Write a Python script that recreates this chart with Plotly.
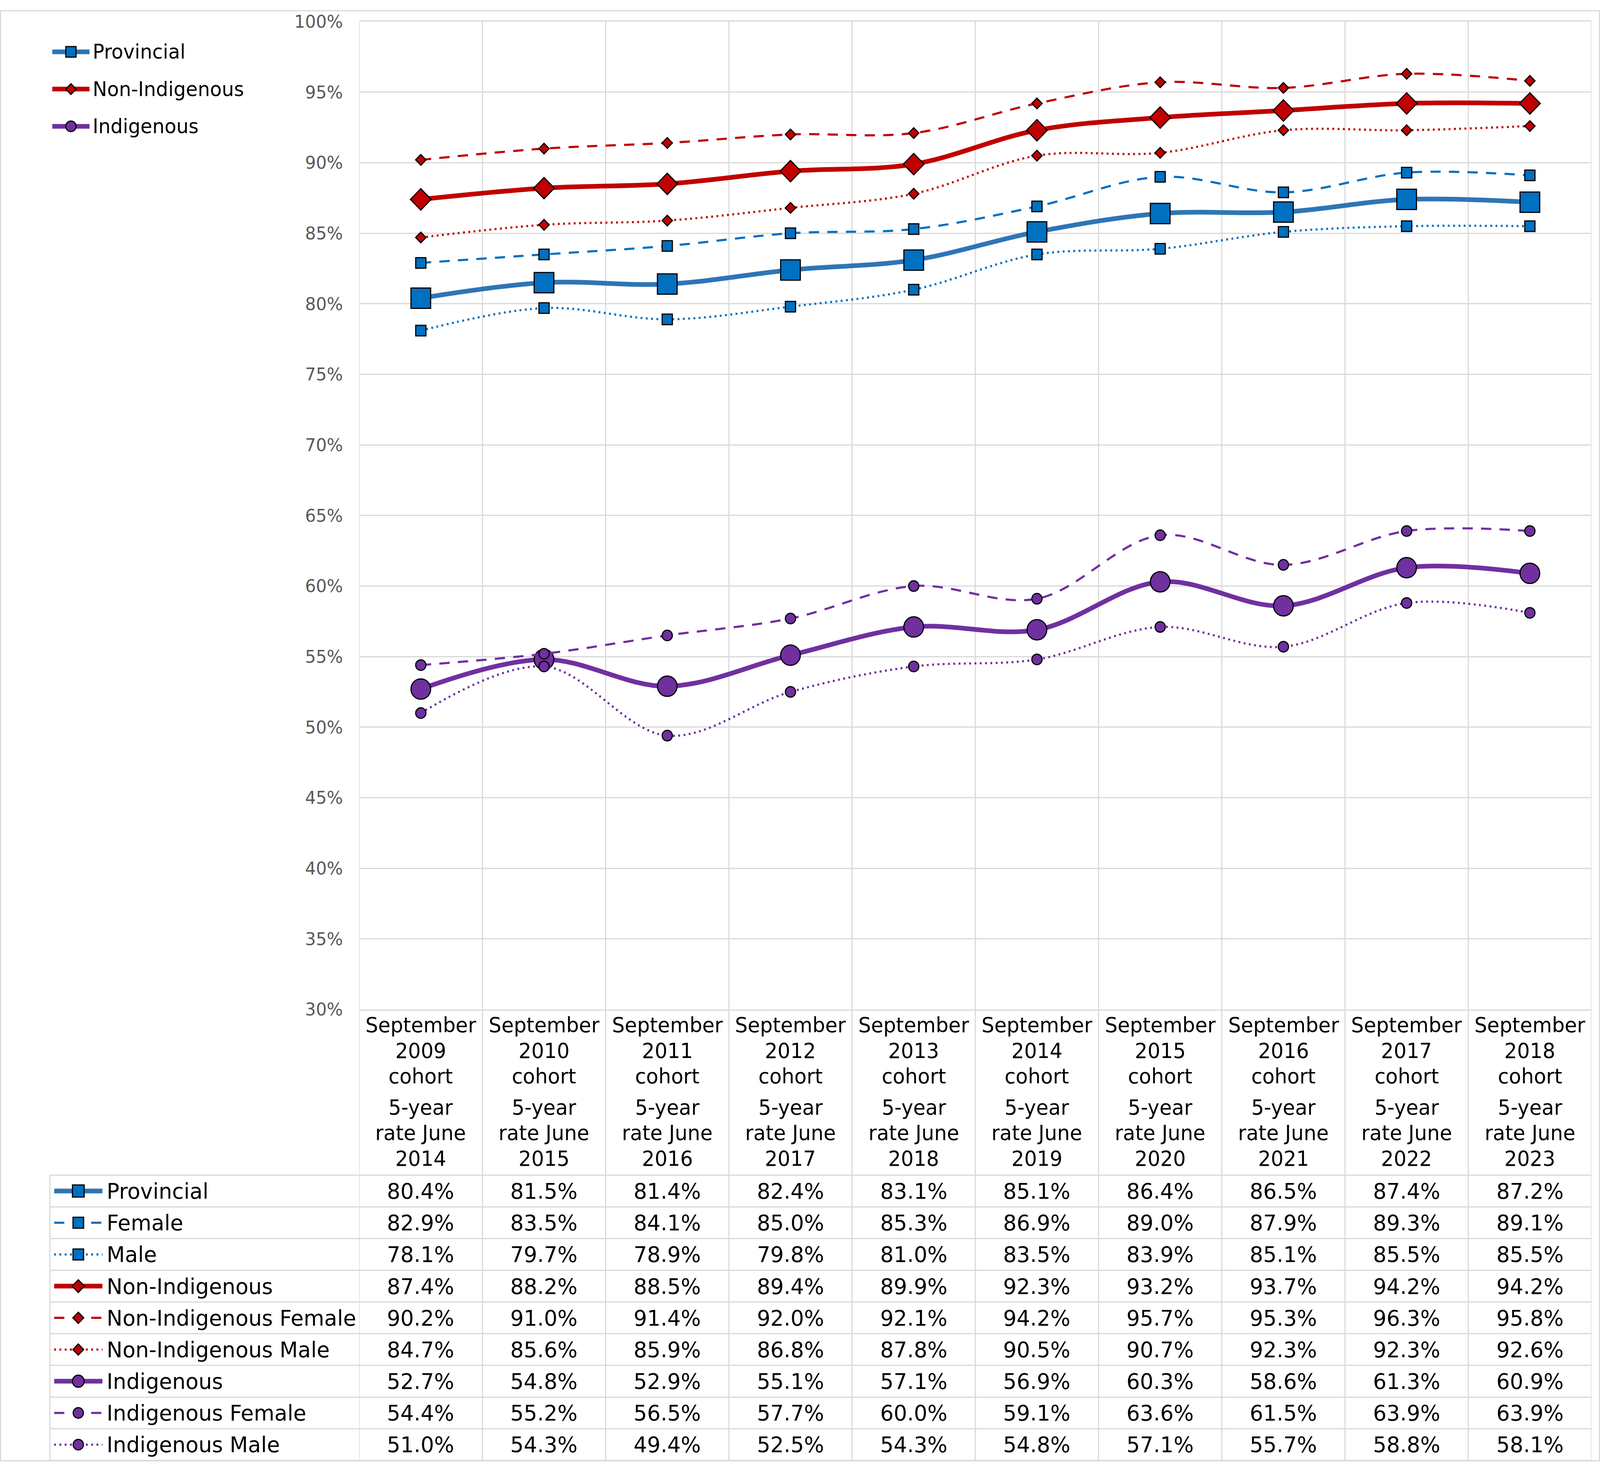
import plotly.graph_objects as go

W, H = 4230, 3769
FONT = "DejaVu Sans"

# ---------------- data ----------------
cohort_years = ["2009", "2010", "2011", "2012", "2013", "2014", "2015", "2016", "2017", "2018"]
rate_years = ["2014", "2015", "2016", "2017", "2018", "2019", "2020", "2021", "2022", "2023"]
categories = [f"September {c} cohort 5-year rate June {r}" for c, r in zip(cohort_years, rate_years)]

series_names = ["Provincial", "Female", "Male", "Non-Indigenous", "Non-Indigenous Female",
                "Non-Indigenous Male", "Indigenous", "Indigenous Female", "Indigenous Male"]

provincial = [80.4, 81.5, 81.4, 82.4, 83.1, 85.1, 86.4, 86.5, 87.4, 87.2]
female = [82.9, 83.5, 84.1, 85.0, 85.3, 86.9, 89.0, 87.9, 89.3, 89.1]
male = [78.1, 79.7, 78.9, 79.8, 81.0, 83.5, 83.9, 85.1, 85.5, 85.5]
non_indigenous = [87.4, 88.2, 88.5, 89.4, 89.9, 92.3, 93.2, 93.7, 94.2, 94.2]
non_indigenous_female = [90.2, 91.0, 91.4, 92.0, 92.1, 94.2, 95.7, 95.3, 96.3, 95.8]
non_indigenous_male = [84.7, 85.6, 85.9, 86.8, 87.8, 90.5, 90.7, 92.3, 92.3, 92.6]
indigenous = [52.7, 54.8, 52.9, 55.1, 57.1, 56.9, 60.3, 58.6, 61.3, 60.9]
indigenous_female = [54.4, 55.2, 56.5, 57.7, 60.0, 59.1, 63.6, 61.5, 63.9, 63.9]
indigenous_male = [51.0, 54.3, 49.4, 52.5, 54.3, 54.8, 57.1, 55.7, 58.8, 58.1]

series_values = [provincial, female, male, non_indigenous, non_indigenous_female,
                 non_indigenous_male, indigenous, indigenous_female, indigenous_male]

y_ticks = [30, 35, 40, 45, 50, 55, 60, 65, 70, 75, 80, 85, 90, 95, 100]

# ---------------- styles ----------------
BLUE, BLUE_LINE, RED, PURPLE = "#0070C0", "#2E75B6", "#C00000", "#7030A0"
GRID = "#D9D9D9"
DASH = "27px,22px"
DOT = "5px,9px"

styles = [
    dict(lc=BLUE_LINE, mc=BLUE, dash="solid", w=12, sym="square", ms=52, lms=31, main=True),
    dict(lc=BLUE, mc=BLUE, dash=DASH, w=5.5, sym="square", ms=27, lms=28, main=False),
    dict(lc=BLUE, mc=BLUE, dash=DOT, w=5.5, sym="square", ms=27, lms=28, main=False),
    dict(lc=RED, mc=RED, dash="solid", w=12, sym="diamond", ms=42, lms=25, main=True),
    dict(lc=RED, mc=RED, dash=DASH, w=5.5, sym="diamond", ms=21, lms=22, main=False),
    dict(lc=RED, mc=RED, dash=DOT, w=5.5, sym="diamond", ms=21, lms=22, main=False),
    dict(lc=PURPLE, mc=PURPLE, dash="solid", w=12, sym="circle", ms=52, lms=31, main=True),
    dict(lc=PURPLE, mc=PURPLE, dash=DASH, w=5.5, sym="circle", ms=27, lms=27, main=False),
    dict(lc=PURPLE, mc=PURPLE, dash=DOT, w=5.5, sym="circle", ms=27, lms=27, main=False),
]


def px(x):
    return x / W


def py(y):
    return 1 - y / H


PLOT_L, PLOT_R, PLOT_T, PLOT_B = 949.6, 4207.5, 29.7, 2595.0
TAB_L, TAB_T, ROW_H, NROWS = 132.0, 3025.5, 82.33, 9
TAB_B = TAB_T + ROW_H * NROWS

fig = go.Figure()

# main chart traces
for name, vals, st in zip(series_names, series_values, styles):
    fig.add_trace(go.Scatter(
        x=categories, y=vals, name=name, mode="lines+markers",
        line=dict(color=st["lc"], width=st["w"], dash=st["dash"], shape="spline", smoothing=1),
        marker=dict(symbol=st["sym"], size=st["ms"], color=st["mc"], line=dict(color="black", width=3)),
        xaxis="x", yaxis="y", showlegend=False, cliponaxis=False, hoverinfo="skip"))

# table legend keys
for i, (name, st) in enumerate(zip(series_names, styles)):
    fig.add_trace(go.Scatter(
        x=[0, 1], y=[i + 0.5, i + 0.5], mode="lines",
        line=dict(color=st["lc"], width=st["w"], dash=st["dash"]),
        xaxis="x2", yaxis="y2", showlegend=False, hoverinfo="skip"))
    fig.add_trace(go.Scatter(
        x=[0.5], y=[i + 0.5], mode="markers",
        marker=dict(symbol=st["sym"], size=st["lms"], color=st["mc"], line=dict(color="black", width=3)),
        xaxis="x2", yaxis="y2", showlegend=False, hoverinfo="skip"))

# top legend keys (main series only)
top_idx = [0, 3, 6]
top_marker_sizes = {"square": 27, "diamond": 21, "circle": 27}
for k, i in enumerate(top_idx):
    st = styles[i]
    fig.add_trace(go.Scatter(
        x=[0, 1], y=[k, k], mode="lines",
        line=dict(color=st["lc"], width=12),
        xaxis="x3", yaxis="y3", showlegend=False, hoverinfo="skip"))
    fig.add_trace(go.Scatter(
        x=[0.5], y=[k], mode="markers",
        marker=dict(symbol=st["sym"], size=top_marker_sizes[st["sym"]], color=st["mc"],
                    line=dict(color="black", width=3)),
        xaxis="x3", yaxis="y3", showlegend=False, hoverinfo="skip"))

annotations = []
# top legend labels
top_rows_y = [108.3, 205.0, 301.7]
for k, i in enumerate(top_idx):
    annotations.append(dict(x=px(243), y=py(top_rows_y[k]), xref="paper", yref="paper",
                            text=series_names[i], showarrow=False, xanchor="left", yanchor="middle",
                            font=dict(family=FONT, size=51, color="black")))

# category labels
label_line_y = [2636, 2702, 2768, 2850, 2916, 2982]
for ci, (c, r) in enumerate(zip(cohort_years, rate_years)):
    lines = ["September", c, "cohort", "5-year", "rate June", r]
    for ly, t in zip(label_line_y, lines):
        annotations.append(dict(x=ci, y=py(ly), xref="x", yref="paper", text=t, showarrow=False,
                                xanchor="center", yanchor="middle",
                                font=dict(family=FONT, size=53, color="black")))

# table values & row labels
for ri, (name, vals) in enumerate(zip(series_names, series_values)):
    yc = py(TAB_T + ROW_H * (ri + 0.5))
    annotations.append(dict(x=px(280), y=yc, xref="paper", yref="paper", text=name, showarrow=False,
                            xanchor="left", yanchor="middle",
                            font=dict(family=FONT, size=56, color="black")))
    for ci, v in enumerate(vals):
        annotations.append(dict(x=ci, y=yc, xref="x", yref="paper", text=f"{v:.1f}%", showarrow=False,
                                xanchor="center", yanchor="middle",
                                font=dict(family=FONT, size=56, color="black")))

shapes = []
gl = dict(color=GRID, width=3)
# vertical category boundaries spanning chart, labels and table
for k in range(len(categories) + 1):
    shapes.append(dict(type="line", xref="x", yref="paper", x0=k - 0.5, x1=k - 0.5,
                       y0=py(TAB_B), y1=py(PLOT_T), line=gl, layer="below"))
# table horizontal lines
for r in range(NROWS + 1):
    yy = py(TAB_T + ROW_H * r)
    shapes.append(dict(type="line", xref="paper", yref="paper", x0=px(TAB_L), x1=px(PLOT_R),
                       y0=yy, y1=yy, line=gl, layer="below"))
# table left edge
shapes.append(dict(type="line", xref="paper", yref="paper", x0=px(TAB_L), x1=px(TAB_L),
                   y0=py(TAB_B), y1=py(TAB_T), line=gl, layer="below"))
# outer border
shapes.append(dict(type="rect", xref="paper", yref="paper", x0=px(1.5), x1=px(W - 1.5),
                   y0=py(H - 1.5), y1=py(1.5), line=gl, layer="below"))

fig.update_layout(
    width=W, height=H, autosize=False,
    margin=dict(l=0, r=0, t=0, b=0, pad=0),
    paper_bgcolor="white", plot_bgcolor="white",
    font=dict(family=FONT),
    showlegend=False,
    xaxis=dict(domain=[px(PLOT_L), px(PLOT_R)], type="category", range=[-0.5, 9.5],
               showgrid=False, showticklabels=False, ticks="", zeroline=False,
               showline=True, mirror=True, linecolor=GRID, linewidth=3, fixedrange=True),
    yaxis=dict(domain=[py(PLOT_B), py(PLOT_T)], range=[30, 100], tickvals=y_ticks,
               ticktext=[f"{t}%" for t in y_ticks], showgrid=True, gridcolor=GRID, gridwidth=3,
               zeroline=False, showline=False, ticks="", ticklabelstandoff=42,
               tickfont=dict(family=FONT, size=45, color="#595959"), fixedrange=True),
    xaxis2=dict(domain=[px(143), px(271)], range=[0, 1], visible=False, anchor="y2", fixedrange=True),
    yaxis2=dict(domain=[py(TAB_B), py(TAB_T)], range=[NROWS, 0], visible=False, anchor="x2",
                fixedrange=True),
    xaxis3=dict(domain=[px(138), px(237)], range=[0, 1], visible=False, anchor="y3", fixedrange=True),
    yaxis3=dict(domain=[py(350), py(60)], range=[2.5, -0.5], visible=False, anchor="x3",
                fixedrange=True),
    annotations=annotations,
    shapes=shapes,
)

# pin the figure to the top-left of the window and fit it to the viewport
post_script = """
var gd = document.getElementById('{plot_id}');
document.documentElement.style.margin = '0';
document.documentElement.style.overflow = 'hidden';
document.body.style.margin = '0';
document.body.style.overflow = 'hidden';
gd.style.position = 'fixed';
gd.style.left = '0px';
gd.style.top = '0px';
gd.style.transformOrigin = '0 0';
gd.style.transform = 'scale(' + (window.innerWidth / 4230) + ',' + (window.innerHeight / 3769) + ')';
"""

fig.write_html("out.html", config={"displayModeBar": False}, post_script=post_script)
